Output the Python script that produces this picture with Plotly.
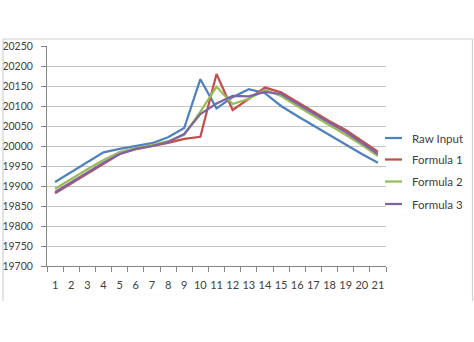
import plotly.graph_objects as go

categories = list(range(1, 22))
raw_input = [19910, 19935, 19960, 19984, 19993, 20000, 20007, 20022, 20045, 20167,
             20094, 20122, 20142, 20132, 20100, 20075, 20051, 20027, 20003, 19980, 19958]
formula_1 = [19882, 19906, 19931, 19955, 19980, 19992, 20000, 20008, 20018, 20023,
             20180, 20090, 20118, 20146, 20134, 20110, 20085, 20062, 20040, 20012, 19986]
formula_2 = [19893, 19918, 19942, 19965, 19985, 19995, 20002, 20012, 20028, 20086,
             20148, 20105, 20118, 20140, 20125, 20100, 20075, 20052, 20028, 20003, 19975]
formula_3 = [19885, 19910, 19935, 19958, 19980, 19993, 20000, 20010, 20030, 20080,
             20106, 20125, 20124, 20135, 20130, 20107, 20082, 20058, 20035, 20008, 19980]
series_names = ["Raw Input", "Formula 1", "Formula 2", "Formula 3"]
series_values = [raw_input, formula_1, formula_2, formula_3]
colors = ["#4F81BD", "#C0504D", "#9BBB59", "#8064A2"]
y_ticks = list(range(19700, 20251, 50))
y_ticklabels = [str(v) for v in y_ticks]

W, H = 474, 342
L, R, T, B = 47, 386, 46, 266  # plot area in pixels
FONT = "Lato, Liberation Sans, sans-serif"
TXT = "#404040"

def px_x(p):
    return (p - L) / (R - L)

def px_y(p):
    return (B - p) / (B - T)

fig = go.Figure()
for name, vals, c in zip(series_names, series_values, colors):
    fig.add_trace(go.Scatter(x=categories, y=vals, mode="lines", name=name,
                             line=dict(color=c, width=2.25), showlegend=False))

shapes = []
# outer chart frame (top, left, right)
frame = dict(type="line", xref="paper", yref="paper", line=dict(color="#d0d0d0", width=1.2))
shapes.append(dict(frame, x0=px_x(3), x1=px_x(472.5), y0=px_y(39), y1=px_y(39)))
shapes.append(dict(frame, x0=px_x(3), x1=px_x(3), y0=px_y(39), y1=px_y(301)))
shapes.append(dict(frame, x0=px_x(472.5), x1=px_x(472.5), y0=px_y(39), y1=px_y(301)))

annotations = []
legend_y = [138, 159.5, 181.5, 204]
for name, c, ly in zip(series_names, colors, legend_y):
    shapes.append(dict(type="line", xref="paper", yref="paper",
                       x0=px_x(385), x1=px_x(402), y0=px_y(ly), y1=px_y(ly),
                       line=dict(color=c, width=2.25)))
    annotations.append(dict(xref="paper", yref="paper", x=px_x(410), y=px_y(ly),
                            text=name, showarrow=False, xanchor="left", yanchor="middle",
                            font=dict(family=FONT, size=11.5, color=TXT)))

fig.update_layout(
    width=W, height=H,
    margin=dict(l=L, r=W - R, t=T, b=H - B, pad=0, autoexpand=False),
    paper_bgcolor="white", plot_bgcolor="white",
    shapes=shapes, annotations=annotations,
    font=dict(family=FONT, size=11, color=TXT),
)
fig.update_xaxes(range=[0.5, 21.5], tickmode="array", tickvals=categories,
                 ticktext=[str(c) for c in categories], showgrid=False,
                 showline=True, linecolor="#868686", linewidth=1,
                 ticks="outside", ticklen=5, tickcolor="rgba(0,0,0,0)",
                 ticklabelstandoff=4, zeroline=False, automargin=False,
                 minor=dict(tickmode="array", tickvals=[c + 0.5 for c in [0] + categories],
                            ticks="outside", ticklen=5, tickcolor="#868686", showgrid=False),
                 tickfont=dict(family=FONT, size=11, color=TXT))
fig.update_yaxes(range=[19700, 20250], tickmode="array", tickvals=y_ticks,
                 ticktext=y_ticklabels,
                 showgrid=True, gridcolor="#c4c4c4", gridwidth=1,
                 showline=True, linecolor="#868686", linewidth=1,
                 ticks="outside", ticklen=5, tickcolor="#868686",
                 zeroline=False, ticklabelstandoff=6, automargin=False,
                 tickfont=dict(family=FONT, size=10.5, color=TXT))

fig.write_html("out.html")
